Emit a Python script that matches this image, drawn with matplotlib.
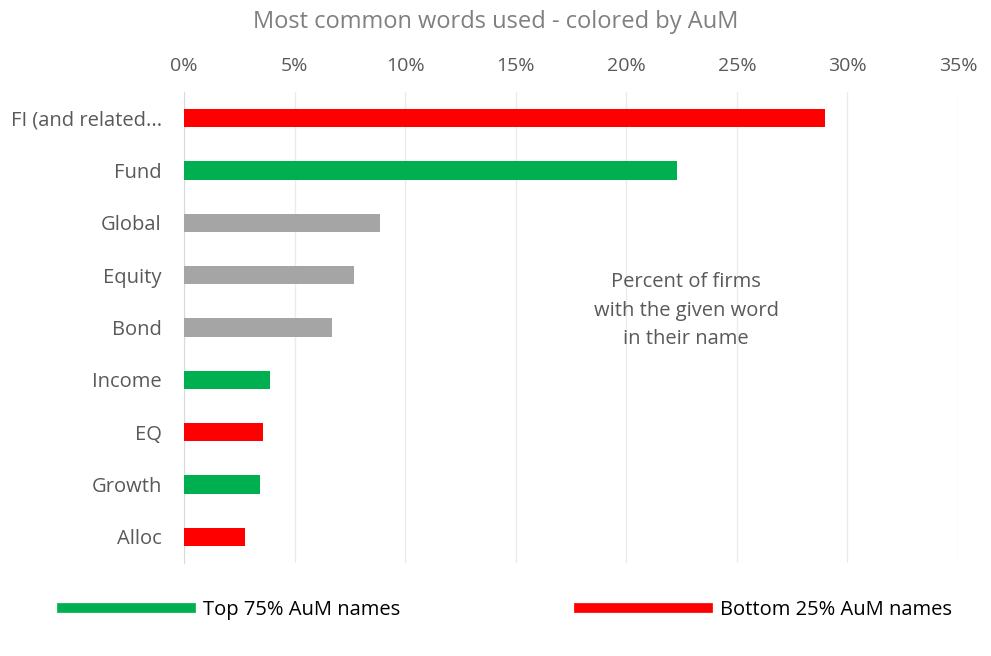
import matplotlib.pyplot as plt
from matplotlib.lines import Line2D

plt.rcParams['font.family'] = ['Open Sans', 'DejaVu Sans']

words = ['FI (and related...', 'Fund', 'Global', 'Equity', 'Bond',
         'Income', 'EQ', 'Growth', 'Alloc']
pct = [29.0, 22.3, 8.85, 7.7, 6.7, 3.9, 3.55, 3.45, 2.75]
group = ['bottom', 'top', 'all', 'all', 'all', 'top', 'bottom', 'top', 'bottom']
xticks = [0, 5, 10, 15, 20, 25, 30, 35]
legend_names = ['Top 75% AuM names', 'Bottom 25% AuM names']

color_dict = {'top': '#00B050', 'bottom': '#FF0000', 'all': '#A5A5A5'}

fig = plt.figure(figsize=(9.91, 6.56), dpi=100)
ax = fig.add_axes([0.1857, 0.1418, 0.7810, 0.7180])

ax.barh(range(len(words)), pct, height=0.35,
        color=[color_dict[g] for g in group], zorder=3)

ax.set_ylim(len(words) - 0.5, -0.5)
ax.set_yticks(range(len(words)))
ax.set_yticklabels(words, size=14.5, color='#595959')
ax.set_xlim(0, 35)
ax.set_xticks(xticks)
ax.set_xticklabels(['{}%'.format(t) for t in xticks], size=14, color='#595959')
ax.xaxis.tick_top()
ax.tick_params(axis='x', length=0, pad=12)
ax.tick_params(axis='y', length=0, pad=16)
for s in ['top', 'right', 'bottom']:
    ax.spines[s].set_visible(False)
ax.spines['left'].set_color('#D9D9D9')
ax.grid(axis='x', color='#EBEBEB', lw=1, zorder=0)
ax.set_axisbelow(True)

ax.text(22.7, 3.68, 'Percent of firms\nwith the given word\nin their name',
        ha='center', va='center', size=14.5, color='#595959', linespacing=1.55)

fig.text(0.5, 0.966, 'Most common words used - colored by AuM',
         ha='center', va='center', size=17, color='#808080')

for i, g in enumerate(['top', 'bottom']):
    h = Line2D([], [], color=color_dict[g], lw=7)
    fig.legend([h], [legend_names[i]], loc='center left',
               bbox_to_anchor=([0.0626, 0.584][i], 0.0701), frameon=False,
               fontsize=14.5, handlelength=6.75 - 0.35, handletextpad=0.6,
               borderpad=0, borderaxespad=0, labelcolor='black')

plt.savefig('out.png', dpi=100)
